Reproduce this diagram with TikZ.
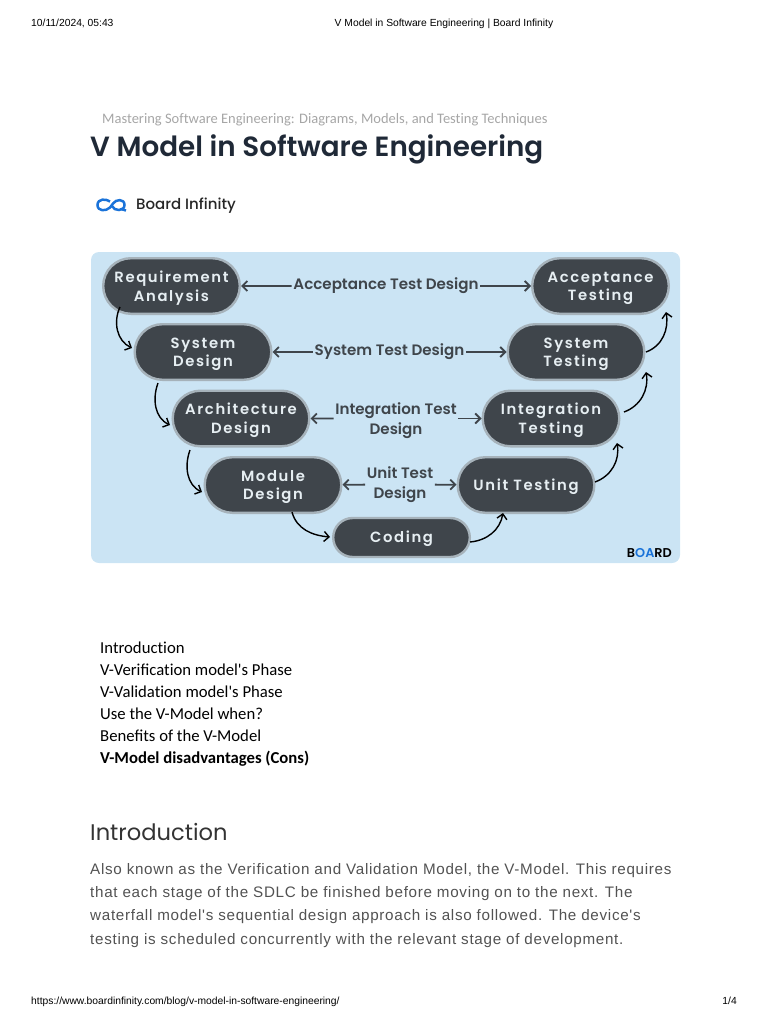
\documentclass[tikz,border=0pt]{standalone}
\usepackage{fontspec}
\usetikzlibrary{arrows.meta,shapes.misc}
\setmainfont{Carlito}
\newfontfamily\listfont{Carlito}
\newfontfamily\seriesfont{Carlito}[Ligatures=NoCommon]
\newfontfamily\introfont{Poppins}
\newfontfamily\headfont{Poppins}[UprightFont=* Medium]
\newfontfamily\titlefont{Poppins}[UprightFont=* SemiBold]
\newfontfamily\boxfont{Poppins}[UprightFont=* SemiBold,LetterSpace=11]
\newfontfamily\labelfont{Poppins}[UprightFont=* SemiBold]
\newfontfamily\bodyfont{Liberation Sans}[LetterSpace=4.6]
\newfontfamily\printfont{Liberation Sans}
\newcommand\plainti{t\kern0pt i}
\definecolor{panelblue}{HTML}{CBE4F4}
\definecolor{boxdark}{HTML}{3F454B}
\definecolor{boxedge}{HTML}{A6B2BA}
\definecolor{boxtext}{HTML}{E6EEF2}
\definecolor{titledark}{HTML}{1F2937}
\definecolor{logoblue}{HTML}{1A73D9}
\tikzset{
  vbox/.style={rounded rectangle, draw=boxedge, fill=boxdark, line width=2.4pt,
    minimum width=136.6pt, minimum height=55.6pt, inner sep=0pt, align=center,
    text=boxtext, font=\boxfont\fontsize{14.8}{18.5}\selectfont,
    execute at begin node={\rule{0pt}{14.5pt}}},
  twoline/.style={execute at begin node={\rule{0pt}{34pt}}},
  testlabel/.style={text=boxdark, align=center, inner sep=1.5pt,
    font=\labelfont\fontsize{15.1}{19.5}\selectfont},
  lowertext/.style={execute at begin node={\rule{0pt}{35.5pt}}},
  sidearrow/.style={draw=boxdark, line width=1.8pt, -{Straight Barb[length=5pt,width=10pt]}},
  steparrow/.style={draw=black, line width=1.4pt, -{Straight Barb[length=5pt,width=10pt]}},
  pagetext/.style={anchor=base west, inner sep=0pt},
  printtext/.style={pagetext, font=\printfont\fontsize{10.3}{12}\selectfont},
}
\begin{document}
\begin{tikzpicture}[x=1pt, y=1pt]
  \useasboundingbox (0,0) rectangle (768,-1024);

  % Print header and footer
  \node[printtext] (stamp) at (31,-27) {10/11/2024, 05:43};
  \node[printtext, anchor=base] (pagetitle) at (444,-27) {V Model in Software Engineering | Board Infinity};
  \node[printtext] (url) at (31,-1004) {https://www.boardinfinity.com/blog/v-model-in-software-engineering/};
  \node[printtext, anchor=base east] (pageno) at (737,-1004) {1/4};

  % Title block
  \node[pagetext, text=black!35, font=\seriesfont\fontsize{14.5}{17}\selectfont] (series) at (102,-124) {Mastering Software Engineering: Diagrams, Models, and Testing Techniques};
  \node[pagetext, text=titledark, font=\titlefont\fontsize{27.8}{34}\selectfont] (title) at (90,-157) {V Model in Software Engineering};
  \draw[logoblue, line width=2.5pt] (110,-201.5) .. controls (106,-198.5) and (97.5,-198.5) .. (97.5,-205)
    .. controls (97.5,-211.5) and (106,-211.5) .. (110,-207.5) -- (113,-203.5)
    .. controls (116,-199) and (124.5,-198.5) .. (124.5,-205)
    .. controls (124.5,-211.5) and (114,-211.5) .. (112,-206);
  \draw[logoblue, line width=2.5pt] (121,-209) -- (126,-210.5);
  \node[pagetext, text=black!85, font=\headfont\fontsize{15}{17}\selectfont] (brand) at (136,-209.5) {Board Infinity};

  % Diagram panel
  \fill[panelblue, rounded corners=8pt] (91,-252) rectangle (680,-563);

  % Left arm
  \node[vbox, twoline] (req) at (171.5,-286) {Requirement\\Analysis};
  \node[vbox, twoline] (sysd) at (203,-352) {System\\Design};
  \node[vbox, twoline] (arch) at (241,-418.5) {Architecture\\Design};
  \node[vbox, twoline] (modd) at (273,-485) {Module\\Design};
  \node[vbox, minimum height=39pt] (cod) at (401.5,-537.5) {Coding};
  % Right arm
  \node[vbox] (unit) at (526,-485) {Unit Testing};
  \node[vbox, twoline] (integ) at (551,-418.5) {Integration\\Testing};
  \node[vbox, twoline] (syst) at (576,-352) {System\\Testing};
  \node[vbox, twoline] (acc) at (600.5,-286) {Acceptance\\Testing};

  % Test design labels
  \node[testlabel] (atd) at (386,-286) {Acceptance Test Design};
  \node[testlabel] (std) at (389.5,-352) {System Test Design};
  \node[testlabel, lowertext] (itd) at (396,-418.5) {Integration Test\\Design};
  \node[testlabel] (utd) at (400,-484.5) {Unit Test\\Design};

  \foreach \lab/\lft/\rgt in {atd/req/acc, std/sysd/syst, itd/arch/integ, utd/modd/unit} {
    \draw[sidearrow] (\lab) -- (\lft);
    \draw[sidearrow] (\lab) -- (\rgt);
  }

  % Down the V
  \draw[steparrow] ([shift={(-51.5,-21)}]req.center) to[out=245, in=155] ([shift={(-71,4)}]sysd.center);
  \draw[steparrow] ([shift={(-45,-31)}]sysd.center) to[out=250, in=155] ([shift={(-71,-6.5)}]arch.center);
  \draw[steparrow] ([shift={(-51,-31.5)}]arch.center) to[out=250, in=155] ([shift={(-71,-7)}]modd.center);
  \draw[steparrow] ([shift={(19,-27)}]modd.center) to[out=285, in=175] ([shift={(-71.5,0.5)}]cod.center);
  % Up the V
  \draw[steparrow] ([shift={(68.5,-4.5)}]cod.center) to[out=5, in=260] ([shift={(-23,-28)}]unit.center);
  \draw[steparrow] ([shift={(69,3)}]unit.center) to[out=20, in=280] ([shift={(66,-24.5)}]integ.center);
  \draw[steparrow] ([shift={(73,6.5)}]integ.center) to[out=20, in=280] ([shift={(70,-20)}]syst.center);
  \draw[steparrow] ([shift={(70,0)}]syst.center) to[out=20, in=280] ([shift={(65.5,-26)}]acc.center);

  \node[pagetext, anchor=base east, font=\labelfont\fontsize{12.8}{14}\selectfont] (mark) at (672,-557.5) {B\textcolor{logoblue}{OA}RD};

  % Contents list
  \foreach \Y/\txt in {653/{Introduc\plainti on}, 675/{V-Verifica\plainti on model's Phase}, 697/{V-Valida\plainti on model's Phase},
      719/{Use the V-Model when?}, 741/{Benefits of the V-Model}} {
    \node[pagetext, font=\listfont\fontsize{16.7}{18}\selectfont] at (100,-\Y) {\txt};
  }
  \node[pagetext, font=\listfont\bfseries\fontsize{16.7}{18}\selectfont] (cons) at (100,-763) {V-Model disadvantages (Cons)};

  % Introduction text
  \node[pagetext, text=black!80, font=\introfont\fontsize{22.6}{27}\selectfont] (intro) at (90,-840) {Introduction};
  \foreach \Y/\txt in {874/{Also known as the Verification and Validation Model, the V-Model. This requires},
      897.5/{that each stage of the SDLC be finished before moving on to the next. The},
      920.5/{waterfall model's sequential design approach is also followed. The device's},
      944/{testing is scheduled concurrently with the relevant stage of development.}} {
    \node[pagetext, text=black!68, font=\bodyfont\fontsize{15.2}{18}\selectfont] at (90,-\Y) {\txt};
  }
\end{tikzpicture}
\end{document}
